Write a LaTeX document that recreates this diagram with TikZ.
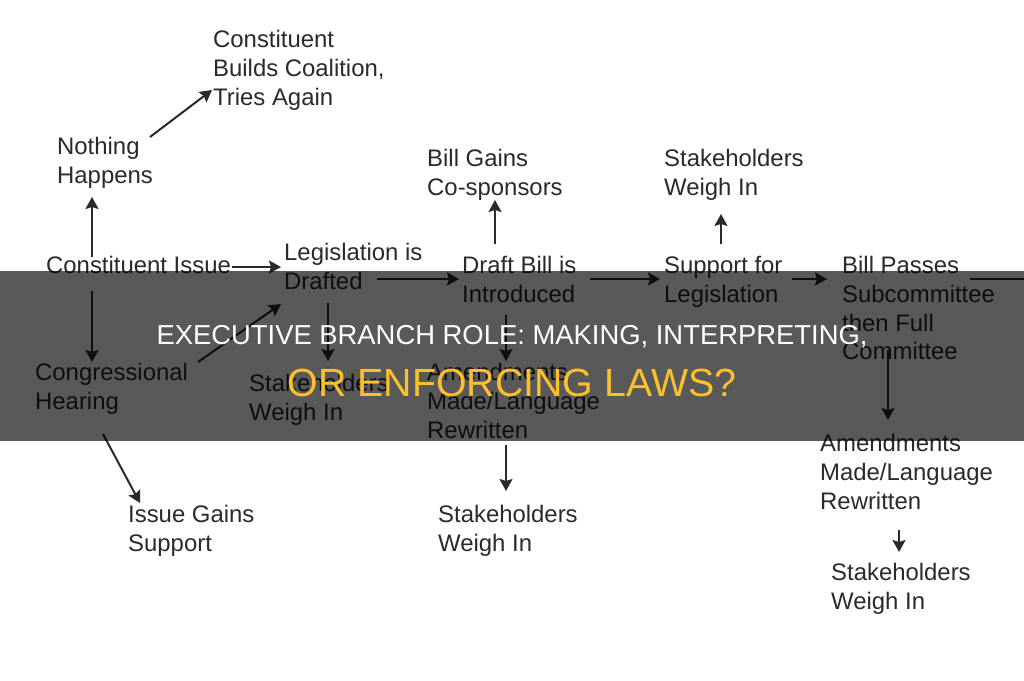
\documentclass[tikz,border=0pt]{standalone}
\usepackage{fontspec}
\setmainfont{Liberation Sans}
\usetikzlibrary{calc,arrows.meta}
\definecolor{ink}{HTML}{2A2A2A}
\definecolor{gold}{HTML}{FBC02D}
\tikzset{
  lbl/.style={anchor=north west,inner xsep=0pt,inner ysep=2pt,align=left,text=ink,font=\fontsize{23.9}{28.8}\selectfont},
  arr/.style={draw=ink,line width=2pt,-{Stealth[length=12pt,width=13pt,inset=2pt]}},
  plain/.style={draw=ink,line width=2pt},
  band/.style={fill=black,fill opacity=0.65,draw=none},
  ttl/.style={anchor=center,inner sep=0pt,text=white,font=\fontsize{27.4}{33}\selectfont},
  ttlb/.style={anchor=center,inner sep=0pt,text=gold,font=\fontsize{39.3}{47}\selectfont}
}
\begin{document}
\begin{tikzpicture}[x=1pt,y=-1pt]
\useasboundingbox (0,0) rectangle (1024,680);
\fill[white] (0,0) rectangle (1024,680);
\node[lbl] (builds) at (213,28) {Constituent\\Builds Coalition,\\Tries Again};
\node[lbl] (nothing) at (57,135) {Nothing\\Happens};
\node[lbl] (issue) at (46,254) {Constituent Issue};
\node[lbl] (leg) at (284,241) {Legislation is\\Drafted};
\node[lbl] (draft) at (462,254) {Draft Bill is\\Introduced};
\node[lbl] (support) at (664,254) {Support for\\Legislation};
\node[lbl] (passes) at (842,254) {Bill Passes\\Subcommittee\\then Full\\Committee};
\node[lbl] (gains) at (427,147) {Bill Gains\\Co-sponsors};
\node[lbl] (shone) at (664,147) {Stakeholders\\Weigh In};
\node[lbl] (cong) at (35,361) {Congressional\\Hearing};
\node[lbl] (shtwo) at (249,372) {Stakeholders\\Weigh In};
\node[lbl] (amone) at (427,361) {Amendments\\Made/Language\\Rewritten};
\node[lbl] (amtwo) at (820,432) {Amendments\\Made/Language\\Rewritten};
\node[lbl] (igs) at (128,503) {Issue Gains\\Support};
\node[lbl] (shthree) at (438,503) {Stakeholders\\Weigh In};
\node[lbl] (shfour) at (831,561) {Stakeholders\\Weigh In};
\coordinate (offright) at (1024,279);
\draw[arr] ($(issue.north west)+(46,3)$) -- ($(nothing.north west)+(35,62)$);
\draw[arr] ($(nothing.north west)+(93,2)$) -- ($(builds.north west)+(-1,62)$);
\draw[arr] ($(issue.north west)+(186,13)$) -- ($(leg.north west)+(-3,26)$);
\draw[arr] ($(issue.north west)+(46,37)$) -- ($(cong.north west)+(57,1)$);
\draw[arr] ($(cong.north west)+(163,1)$) -- ($(leg.north west)+(-3,63)$);
\draw[arr] ($(cong.north west)+(68,73)$) -- ($(igs.north west)+(12,0)$);
\draw[arr] ($(leg.north west)+(93,38)$) -- ($(draft.north west)+(-3,25)$);
\draw[arr] ($(leg.north west)+(44,62)$) -- ($(shtwo.north west)+(79,-11)$);
\draw[arr] ($(draft.north west)+(33,-10)$) -- ($(gains.north west)+(68,53)$);
\draw[arr] ($(draft.north west)+(44,61)$) -- ($(amone.north west)+(79,0)$);
\draw[arr] ($(amone.north west)+(79,84)$) -- ($(shthree.north west)+(68,-12)$);
\draw[arr] ($(draft.north west)+(128,25)$) -- ($(support.north west)+(-4,25)$);
\draw[arr] ($(support.north west)+(57,-10)$) -- ($(shone.north west)+(57,67)$);
\draw[arr] ($(support.north west)+(128,25)$) -- ($(passes.north west)+(-15,25)$);
\draw[plain] ($(passes.north west)+(128,25)$) -- (offright);
\draw[arr] ($(passes.north west)+(46,96)$) -- ($(amtwo.north west)+(68,-12)$);
\draw[arr] ($(amtwo.north west)+(79,98)$) -- ($(shfour.north west)+(68,-9)$);
\fill[band] (0,271) rectangle (1024,441);
\node[ttl] (title) at (512,336.5) {EXECUTIVE BRANCH ROLE: MAKING, INTERPRETING,};
\node[ttlb] (subtitle) at (512,383) {OR ENFORCING LAWS?};
\end{tikzpicture}
\end{document}
